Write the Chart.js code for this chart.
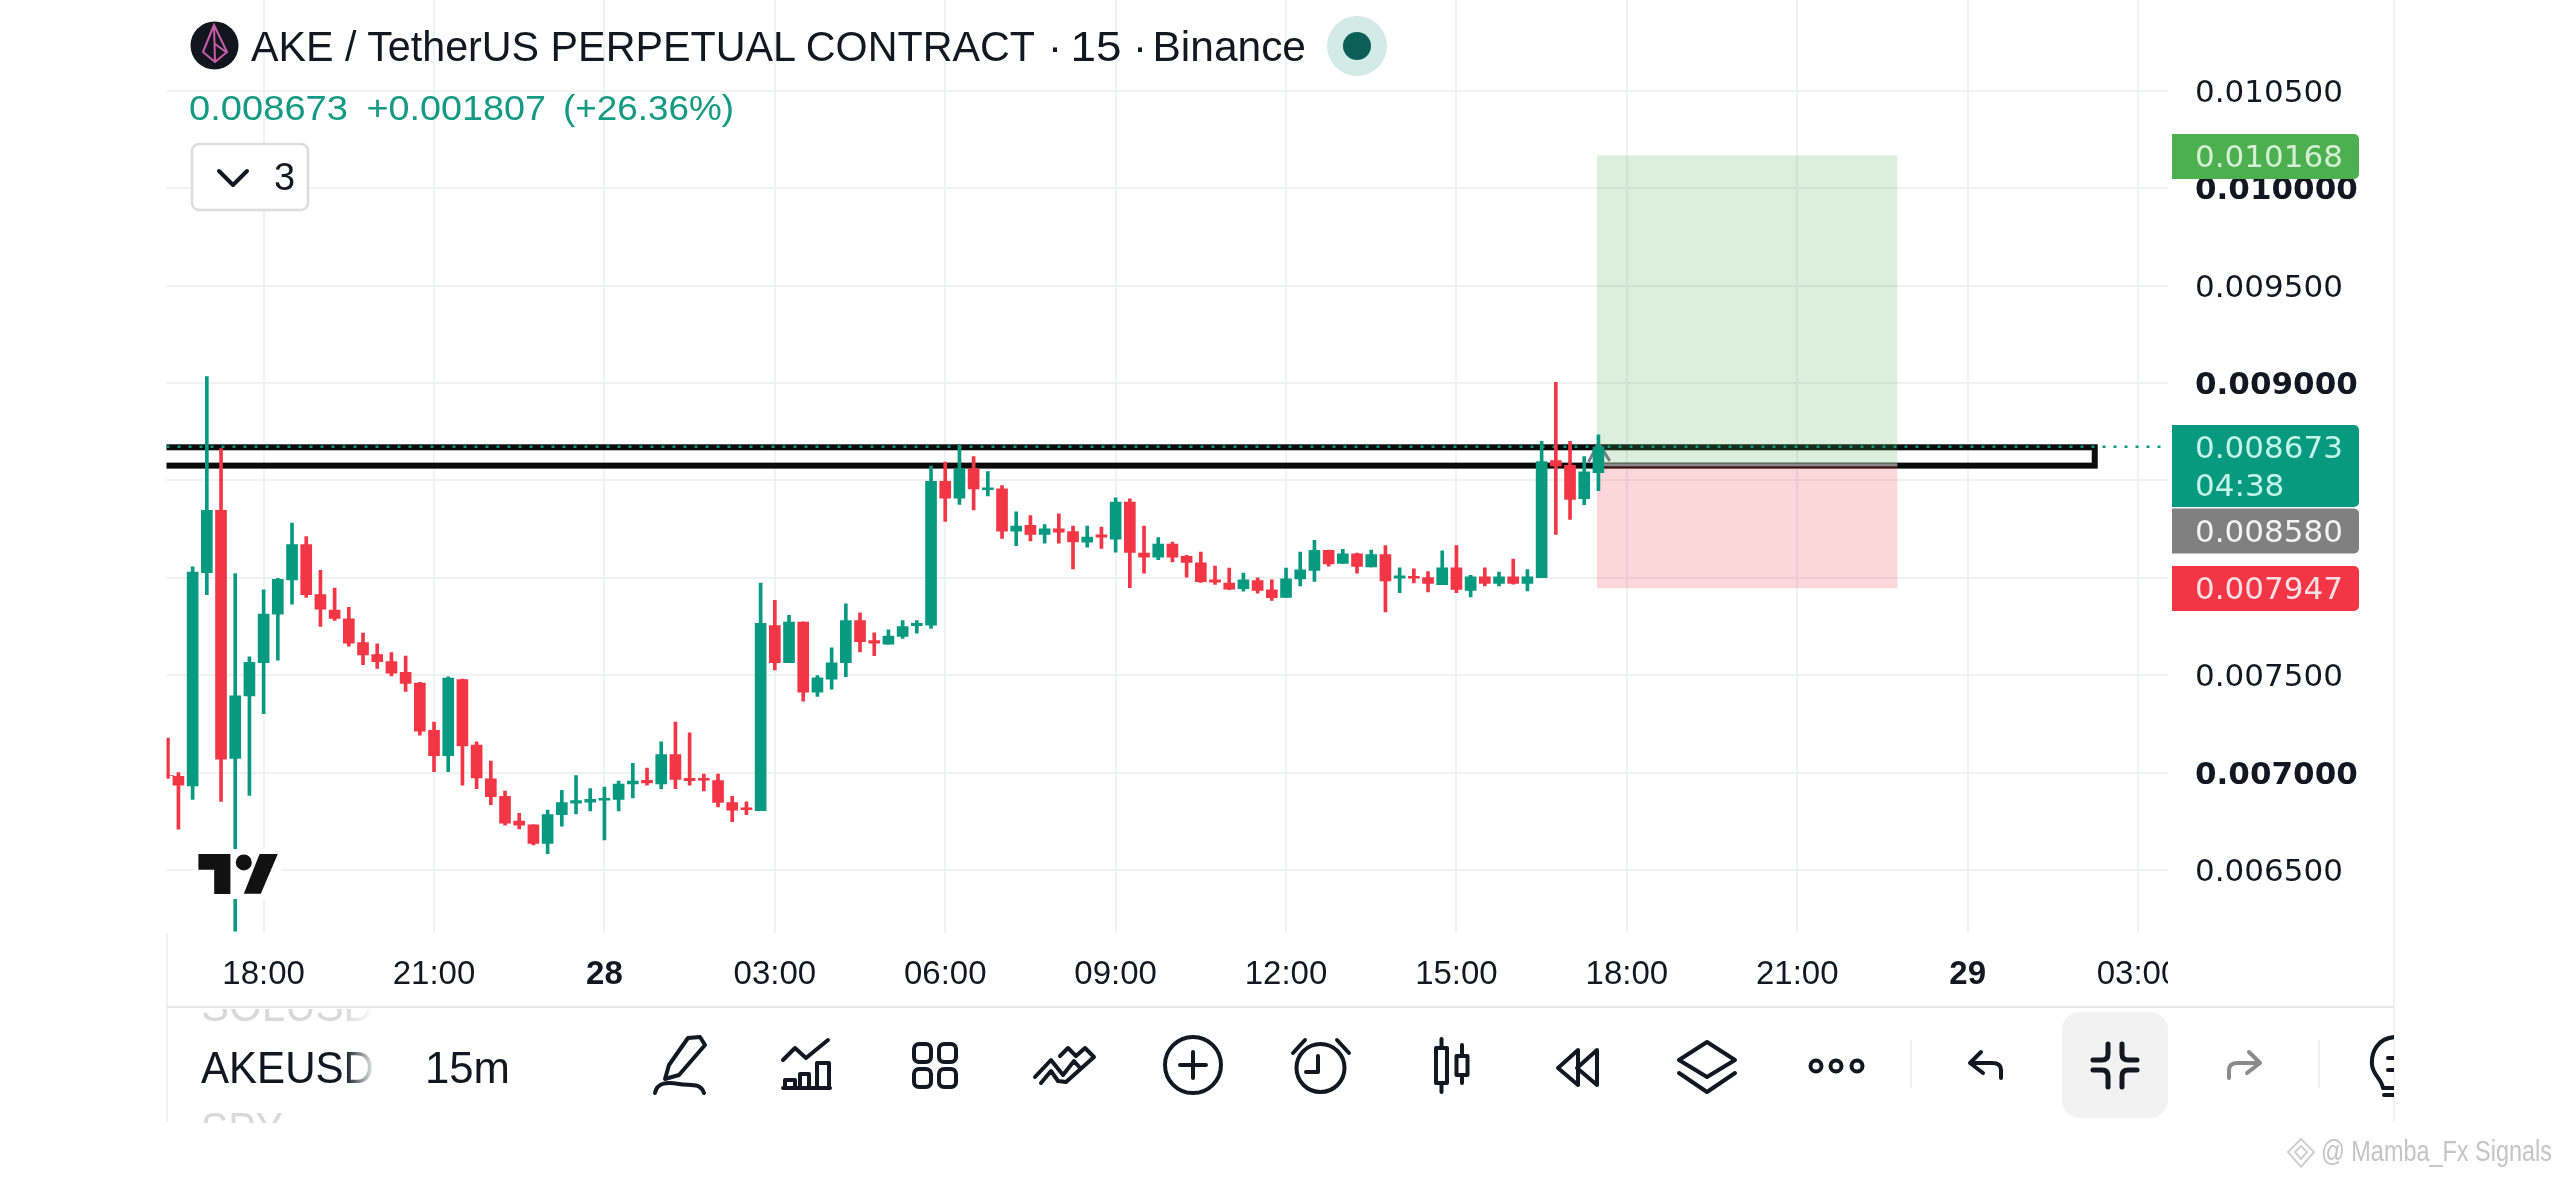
<!DOCTYPE html>
<html>
<head>
<meta charset="utf-8">
<title>AKE / TetherUS</title>
<script src="https://cdn.jsdelivr.net/npm/chart.js"></script>
<style>
html, body { margin: 0; padding: 0; background: #fff; overflow: hidden; }
#wrap { position: relative; width: 2560px; height: 1178px; }
#candles { position: absolute; left: 0; top: 0; }
#overlay { position: absolute; left: 0; top: 0; pointer-events: none; }
#overlay text { font-family: "Liberation Sans", sans-serif; }
#overlay .ico { fill: none; stroke: #131722; stroke-width: 4; stroke-linejoin: round; stroke-linecap: round; }
</style>
</head>
<body>
<div id="wrap">
<canvas id="candles" width="2560" height="1178"></canvas>
<svg id="overlay" width="2560" height="1178" viewBox="0 0 2560 1178">
  <defs>
    <linearGradient id="fadeDark" gradientUnits="userSpaceOnUse" x1="345" x2="376" y1="0" y2="0">
      <stop offset="0" stop-color="#131722"/><stop offset="1" stop-color="#fff"/>
    </linearGradient>
    <linearGradient id="fadeLight" gradientUnits="userSpaceOnUse" x1="345" x2="376" y1="0" y2="0">
      <stop offset="0" stop-color="#d8d8d8"/><stop offset="1" stop-color="#fff"/>
    </linearGradient>
    <clipPath id="upperClip"><rect x="190" y="1009" width="200" height="30"/></clipPath>
    <clipPath id="lowerClip"><rect x="190" y="1100" width="200" height="23"/></clipPath>
    <clipPath id="bulbClip"><rect x="2360" y="1020" width="34" height="90"/></clipPath>
  </defs>

  <!-- header -->
  <circle cx="214.5" cy="45.5" r="24" fill="#14141f"/>
  <path d="M214 25 L203 52 L215 62 L227 52 Z M214 25 L215 62 M215 44 L226 52" fill="none" stroke="#c65fa8" stroke-width="2"/>
  <text x="251" y="60.5" font-size="42" fill="#131722" textLength="784" lengthAdjust="spacingAndGlyphs">AKE / TetherUS PERPETUAL CONTRACT</text>
  <text x="1048" y="60.5" font-size="42" fill="#131722">·</text>
  <text x="1070.5" y="60.5" font-size="42" fill="#131722" textLength="51" lengthAdjust="spacingAndGlyphs">15</text>
  <text x="1133" y="60.5" font-size="42" fill="#131722">·</text>
  <text x="1152.5" y="60.5" font-size="42" fill="#131722" textLength="153.5" lengthAdjust="spacingAndGlyphs">Binance</text>
  <circle cx="1357" cy="46" r="30" fill="#d3ebe6"/>
  <circle cx="1357" cy="46" r="14" fill="#0b5f57"/>
  <text x="189" y="119.5" font-size="35" fill="#149a83" textLength="159" lengthAdjust="spacingAndGlyphs">0.008673</text>
  <text x="366.5" y="119.5" font-size="35" fill="#149a83" textLength="179.5" lengthAdjust="spacingAndGlyphs">+0.001807</text>
  <text x="563" y="119.5" font-size="35" fill="#149a83" textLength="171" lengthAdjust="spacingAndGlyphs">(+26.36%)</text>
  <rect x="192" y="144" width="116" height="66" rx="7" fill="#fff" stroke="#dcdcdc" stroke-width="2.5"/>
  <path class="ico" d="M219 171 L233 185 L247 171"/>
  <text x="274" y="190" font-size="38" fill="#131722">3</text>

  <!-- TradingView mark -->
  <rect x="194" y="849" width="88" height="50" fill="#fff"/>
  <path d="M198.4 854 H230.4 V894 H214.2 V869.7 H198.4 Z" fill="#111"/>
  <circle cx="243.8" cy="862.4" r="8" fill="#111"/>
  <path d="M259.6 854 H277.8 L260.8 893.8 H243.8 Z" fill="#111"/>

  <!-- panel frame -->
  <path d="M167 933 V1122 M2394 0 V1122" stroke="#f1f1f1" stroke-width="2" fill="none"/>
  <path d="M167 1007 H2394" stroke="#e8e8e8" stroke-width="2" fill="none"/>

  <!-- bottom toolbar -->
  <text x="201" y="1021" font-size="45" fill="url(#fadeLight)" clip-path="url(#upperClip)" textLength="173" lengthAdjust="spacingAndGlyphs">SOLUSD</text>
  <text x="201" y="1083" font-size="45" fill="url(#fadeDark)" textLength="173" lengthAdjust="spacingAndGlyphs">AKEUSD</text>
  <text x="201" y="1144" font-size="45" fill="#d8d8d8" clip-path="url(#lowerClip)" textLength="82" lengthAdjust="spacingAndGlyphs">SPY</text>
  <text x="425" y="1083" font-size="45" fill="#131722" textLength="85" lengthAdjust="spacingAndGlyphs">15m</text>

  <path class="ico" d="M688 1038 L700 1037 L705 1045 L679 1075 L665 1079 L669 1065 Z M655 1093 C657 1082 668 1082 679 1084 C690 1086 700 1082 704 1093"/>
  <path class="ico" d="M783 1060 L795 1048 L806 1058 L828 1040 M783 1088 H830 M785 1088 V1080 H795 V1088 M800 1088 V1074 H809 V1088 M817 1088 V1063 H829 V1088"/>
  <rect class="ico" x="914" y="1044" width="17" height="18" rx="5"/>
  <rect class="ico" x="939" y="1044" width="17" height="18" rx="5"/>
  <rect class="ico" x="914" y="1069" width="17" height="18" rx="5"/>
  <rect class="ico" x="939" y="1069" width="17" height="18" rx="5"/>
  <path class="ico" d="M1035 1077 L1051 1060 L1063 1075 M1041 1083 L1051 1071 L1058 1081 M1063 1075 L1074 1061 L1080 1068 M1058 1081 L1066 1082 L1094 1057 L1085 1048 L1076 1056 L1068 1048 L1060 1056"/>
  <circle class="ico" cx="1193" cy="1065" r="28"/>
  <path class="ico" d="M1193 1052 V1078 M1180 1065 H1206"/>
  <circle class="ico" cx="1320.5" cy="1068" r="24"/>
  <path class="ico" d="M1318 1056 V1072 H1306 M1293 1053 L1305 1040 M1349 1053 L1337 1040"/>
  <rect class="ico" x="1436" y="1048" width="11" height="35"/>
  <rect class="ico" x="1456.5" y="1056" width="11" height="19"/>
  <path class="ico" d="M1441.5 1039 V1048 M1441.5 1083 V1092 M1462 1045 V1056 M1462 1075 V1083"/>
  <path class="ico" d="M1578 1050 L1558 1068 L1578 1085 Z M1597 1050 L1577 1068 L1597 1085 Z"/>
  <path class="ico" d="M1707 1042 L1735 1060 L1707 1077 L1679 1060 Z M1679 1073 L1707 1092 L1735 1073"/>
  <circle class="ico" cx="1816" cy="1066" r="5.5"/>
  <circle class="ico" cx="1836" cy="1066" r="5.5"/>
  <circle class="ico" cx="1857" cy="1066" r="5.5"/>
  <path d="M1911 1040 V1088 M2319 1040 V1088" stroke="#eeeeee" stroke-width="2"/>
  <path class="ico" d="M2001 1078 V1070 Q2001 1063 1992 1063 H1971 M1981 1052 L1970 1063 L1983 1073"/>
  <rect x="2062" y="1012" width="106" height="106" rx="18" fill="#f2f2f2"/>
  <path class="ico" style="stroke-width:5" d="M2108 1044 V1054 Q2108 1060 2102 1060 H2093 M2122 1044 V1054 Q2122 1060 2128 1060 H2137 M2093 1070 H2102 Q2108 1070 2108 1076 V1087 M2137 1070 H2128 Q2122 1070 2122 1076 V1087"/>
  <path class="ico" style="stroke:#8a8a8a" d="M2229 1078 V1070 Q2229 1063 2238 1063 H2259 M2249 1052 L2260 1063 L2247 1073"/>
  <path class="ico" clip-path="url(#bulbClip)" d="M2397 1037 C2377 1037 2371 1053 2372 1065 C2373 1075 2381 1078 2383 1088 H2397 M2384 1095 H2397 M2388 1058 H2397 M2388 1070 H2397"/>

  <!-- watermark -->
  <path d="M2301 1139 L2314 1152 L2301 1167 L2288 1152 Z M2301 1146 L2307 1152 L2301 1159 L2295 1152 Z" fill="none" stroke="#cfcfcf" stroke-width="2"/>
  <text x="2321" y="1161" font-size="29" fill="#c4c4c4" textLength="231" lengthAdjust="spacingAndGlyphs">@ Mamba_Fx Signals</text>
</svg>
</div>

<script>
// AKE / USDT 15m candles. bars = 15 minute slots counted from 18:00 on the 27th
const bars = [-6.74, -6, -5, -4, -3, -2, -1, 0, 1, 2, 3, 4, 5, 6, 7, 8, 9, 10, 11, 12, 13, 14, 15, 16, 17,
    18, 19, 20, 21, 22, 23, 24, 25, 26, 27, 28, 29, 30, 31, 32, 33, 34, 35, 36, 37, 38, 39, 40, 41, 42,
    43, 44, 45, 46, 47, 48, 49, 50, 51, 52, 53, 54, 55, 56, 57, 58, 59, 60, 61, 62, 63, 64, 65, 66, 67,
    68, 69, 70, 71, 72, 73, 74, 75, 76, 77, 78, 79, 80, 81, 82, 83, 84, 85, 86, 87, 88, 89, 90, 91, 92, 93, 94];

const opens = [0.006985, 0.006981, 0.006932, 0.008026, 0.008346, 0.007073, 0.007394, 0.007564, 0.007814, 0.007989,
    0.008171, 0.007914, 0.007835, 0.007790, 0.007668, 0.007606, 0.007570, 0.007515, 0.007460, 0.007217,
    0.007087, 0.007478, 0.007142, 0.006969, 0.006879, 0.006751, 0.006732, 0.006637, 0.006785, 0.006844,
    0.006849, 0.006859, 0.006863, 0.006942, 0.006961, 0.006942, 0.007093, 0.006971, 0.006971, 0.006959,
    0.006847, 0.006820, 0.006805, 0.007755, 0.007565, 0.007773, 0.007413, 0.007480, 0.007565, 0.007781,
    0.007678, 0.007660, 0.007699, 0.007755, 0.007757, 0.008495, 0.008409, 0.008560, 0.008452, 0.008457,
    0.008240, 0.008269, 0.008223, 0.008252, 0.008238, 0.008183, 0.008221, 0.008199, 0.008389, 0.008127,
    0.008106, 0.008173, 0.008110, 0.008077, 0.007990, 0.007973, 0.007944, 0.007986, 0.007939, 0.007899,
    0.007995, 0.008038, 0.008141, 0.008074, 0.008123, 0.008056, 0.008120, 0.007998, 0.008008, 0.008001,
    0.007965, 0.008051, 0.007936, 0.008005, 0.007971, 0.008005, 0.007971, 0.008001, 0.008602, 0.008578,
    0.008406, 0.008540];

const highs = [0.007177, 0.007001, 0.008057, 0.009033, 0.008664, 0.008022, 0.007594, 0.007938, 0.007998, 0.008281,
    0.008212, 0.008038, 0.007947, 0.007849, 0.007716, 0.007661, 0.007617, 0.007598, 0.007464, 0.007260,
    0.007492, 0.007480, 0.007158, 0.007060, 0.006906, 0.006792, 0.006732, 0.006808, 0.006910, 0.006985,
    0.006918, 0.006926, 0.006957, 0.007048, 0.007024, 0.007158, 0.007260, 0.007205, 0.006993, 0.006993,
    0.006879, 0.006851, 0.007973, 0.007884, 0.007807, 0.007774, 0.007499, 0.007641, 0.007867, 0.007820,
    0.007718, 0.007733, 0.007781, 0.007781, 0.008574, 0.008594, 0.008680, 0.008623, 0.008546, 0.008474,
    0.008339, 0.008320, 0.008274, 0.008329, 0.008266, 0.008266, 0.008260, 0.008411, 0.008406, 0.008266,
    0.008206, 0.008183, 0.008115, 0.008132, 0.008060, 0.008050, 0.008024, 0.008000, 0.007990, 0.008050,
    0.008132, 0.008192, 0.008142, 0.008146, 0.008127, 0.008142, 0.008166, 0.008051, 0.008046, 0.008032,
    0.008139, 0.008166, 0.008013, 0.008051, 0.008029, 0.008096, 0.008043, 0.008700, 0.009003, 0.008700,
    0.008622, 0.008734];

const lows = [0.006971, 0.006710, 0.006863, 0.007914, 0.006853, 0.006186, 0.006883, 0.007303, 0.007578, 0.007865,
    0.007900, 0.007751, 0.007782, 0.007649, 0.007555, 0.007535, 0.007496, 0.007417, 0.007193, 0.007005,
    0.007005, 0.006936, 0.006918, 0.006836, 0.006730, 0.006712, 0.006629, 0.006584, 0.006726, 0.006789,
    0.006804, 0.006655, 0.006804, 0.006871, 0.006936, 0.006918, 0.006918, 0.006936, 0.006906, 0.006824,
    0.006749, 0.006785, 0.006805, 0.007528, 0.007565, 0.007367, 0.007391, 0.007428, 0.007493, 0.007620,
    0.007600, 0.007660, 0.007689, 0.007716, 0.007740, 0.008290, 0.008377, 0.008349, 0.008421, 0.008202,
    0.008165, 0.008189, 0.008178, 0.008178, 0.008046, 0.008158, 0.008151, 0.008132, 0.007949, 0.008024,
    0.008093, 0.008082, 0.008004, 0.007976, 0.007966, 0.007939, 0.007932, 0.007921, 0.007884, 0.007899,
    0.007959, 0.007981, 0.008060, 0.008074, 0.008024, 0.008056, 0.007825, 0.007924, 0.007974, 0.007928,
    0.007965, 0.007924, 0.007902, 0.007959, 0.007959, 0.007967, 0.007933, 0.008001, 0.008223, 0.008300,
    0.008375, 0.008448];

const closes = [0.006985, 0.006936, 0.008030, 0.008346, 0.007069, 0.007394, 0.007566, 0.007814, 0.007992, 0.008171,
    0.007914, 0.007839, 0.007792, 0.007665, 0.007604, 0.007570, 0.007511, 0.007458, 0.007213, 0.007087,
    0.007486, 0.007138, 0.006973, 0.006877, 0.006741, 0.006730, 0.006637, 0.006785, 0.006847, 0.006857,
    0.006863, 0.006869, 0.006942, 0.006957, 0.006948, 0.007093, 0.006965, 0.006959, 0.006961, 0.006848,
    0.006808, 0.006810, 0.007767, 0.007565, 0.007773, 0.007413, 0.007487, 0.007564, 0.007781, 0.007672,
    0.007665, 0.007701, 0.007750, 0.007767, 0.008495, 0.008409, 0.008560, 0.008456, 0.008462, 0.008240,
    0.008266, 0.008223, 0.008252, 0.008235, 0.008185, 0.008209, 0.008209, 0.008389, 0.008130, 0.008106,
    0.008173, 0.008106, 0.008079, 0.007980, 0.007978, 0.007942, 0.007990, 0.007935, 0.007898, 0.007995,
    0.008041, 0.008141, 0.008072, 0.008123, 0.008058, 0.008120, 0.007984, 0.008010, 0.007998, 0.007971,
    0.008051, 0.007940, 0.008005, 0.007971, 0.008005, 0.007971, 0.008005, 0.008597, 0.008574, 0.008403,
    0.008544, 0.008673];

// time axis
const timeTickBars = [0, 12, 24, 36, 48, 60, 72, 84, 96, 108, 120, 132];
const timeTickLabels = ['18:00', '21:00', '28', '03:00', '06:00', '09:00', '12:00', '15:00', '18:00', '21:00', '29', '03:00'];

// price ticks that the badges push off the axis
const hiddenPriceLabels = ['0.008500', '0.008000'];

// drawings on the chart
const zoneTop = 0.008670;
const zoneBottom = 0.008576;
const zoneEndBar = 128.95;
const lastPrice = 0.008673;
const targetPrice = 0.010168;
const entryPrice = 0.008580;
const stopPrice = 0.007947;
const positionStartBar = 93.9;
const positionEndBar = 115.05;
const arrowBars = [93.3, 94, 94.8];
const arrowPrices = [0.008595, 0.008690, 0.008600];

// labels on the price axis
const badgeTexts = ['0.010168', '0.008580', '0.007947'];
const badgeColors = ['#4caf50', '#808080', '#f23645'];
const badgeTextColors = ['#d6f0d4', '#f4f4f4', '#fbdfe2'];
const GREEN = '#089981';
const RED = '#f23645';
const PRICE_FONT = '"DejaVu Sans", sans-serif';

function candleColor(index) {
    return closes[index] > opens[index] ? GREEN : RED;
}

function roundedBox(ctx, x, y, w, h, r) {
    ctx.beginPath();
    ctx.roundRect(x, y, w, h, r);
    ctx.fill();
}

// zone, long position tool and price line go under the candles
const drawingsPlugin = {
    id: 'drawings',
    beforeDatasetsDraw(chart) {
        const { ctx, chartArea, scales } = chart;
        const xs = scales.x;
        const ys = scales.y;
        ctx.save();
        ctx.beginPath();
        ctx.rect(chartArea.left, chartArea.top, chartArea.right - chartArea.left, chartArea.bottom - chartArea.top);
        ctx.clip();

        // black rectangle zone
        ctx.strokeStyle = '#0b0b0b';
        ctx.lineWidth = 6;
        ctx.strokeRect(xs.getPixelForValue(-20), ys.getPixelForValue(zoneTop), xs.getPixelForValue(zoneEndBar) - xs.getPixelForValue(-20), ys.getPixelForValue(zoneBottom) - ys.getPixelForValue(zoneTop));

        // target and stop boxes
        const boxLeft = xs.getPixelForValue(positionStartBar);
        const boxWidth = xs.getPixelForValue(positionEndBar) - boxLeft;
        ctx.fillStyle = 'rgba(76, 175, 80, 0.2)';
        ctx.fillRect(boxLeft, ys.getPixelForValue(targetPrice), boxWidth, ys.getPixelForValue(entryPrice) - ys.getPixelForValue(targetPrice));
        ctx.fillStyle = 'rgba(242, 54, 69, 0.2)';
        ctx.fillRect(boxLeft, ys.getPixelForValue(entryPrice), boxWidth, ys.getPixelForValue(stopPrice) - ys.getPixelForValue(entryPrice));
        ctx.fillStyle = '#8a8a8a';
        ctx.fillRect(boxLeft, ys.getPixelForValue(entryPrice) - 1.5, boxWidth, 3);

        // dotted last price line
        ctx.strokeStyle = GREEN;
        ctx.lineWidth = 2.5;
        ctx.setLineDash([3, 8]);
        ctx.beginPath();
        ctx.moveTo(chartArea.left, ys.getPixelForValue(lastPrice));
        ctx.lineTo(chartArea.right - 6, ys.getPixelForValue(lastPrice));
        ctx.stroke();
        ctx.setLineDash([]);

        // small arrow of the position tool
        ctx.strokeStyle = '#787b86';
        ctx.lineWidth = 3;
        ctx.beginPath();
        arrowBars.forEach((bar, i) => {
            if (i === 0) ctx.moveTo(xs.getPixelForValue(bar), ys.getPixelForValue(arrowPrices[i]));
            else ctx.lineTo(xs.getPixelForValue(bar), ys.getPixelForValue(arrowPrices[i]));
        });
        ctx.stroke();
        ctx.restore();
    },
    afterDraw(chart) {
        const { ctx, scales } = chart;
        const ys = scales.y;
        const badgeLeft = 2172;
        const badgeWidth = 187;
        const textLeft = 2195;
        ctx.save();

        // the last time label is cut at the edge of the pane
        ctx.fillStyle = '#fff';
        ctx.fillRect(2168, 938, 220, 66);

        ctx.font = '31px ' + PRICE_FONT;
        ctx.textBaseline = 'middle';
        ctx.textAlign = 'left';

        // last price with countdown
        ctx.fillStyle = GREEN;
        roundedBox(ctx, badgeLeft, 425, badgeWidth, 82, [0, 5, 5, 0]);
        ctx.fillStyle = '#c4f5e8';
        ctx.fillText(lastPrice.toFixed(6), textLeft, ys.getPixelForValue(lastPrice) + 3);
        ctx.fillText('04:38', textLeft, 488);

        badgeTexts.forEach((text, i) => {
            const top = i === 0 ? 134 : (i === 1 ? 508.5 : 566);
            ctx.fillStyle = badgeColors[i];
            roundedBox(ctx, badgeLeft, top, badgeWidth, 45, [0, 5, 5, 0]);
            ctx.fillStyle = badgeTextColors[i];
            ctx.fillText(text, textLeft, top + 25);
        });
        ctx.restore();
    }
};

function renderCandles() {
    const ctx = document.getElementById('candles').getContext('2d');
    new Chart(ctx, {
        type: 'bar',
        data: {
            datasets: [{
                label: 'Wicks',
                data: bars.map((bar, i) => ({ x: bar, y: [lows[i], highs[i]] })),
                backgroundColor: bars.map((bar, i) => candleColor(i)),
                barThickness: 3,
                grouped: false,
                order: 2
            }, {
                label: 'Bodies',
                data: bars.map((bar, i) => ({ x: bar, y: [opens[i], closes[i]] })),
                backgroundColor: bars.map((bar, i) => candleColor(i)),
                barThickness: 11,
                grouped: false,
                order: 1
            }]
        },
        options: {
            responsive: false,
            animation: false,
            devicePixelRatio: 1,
            layout: { padding: { left: 166.5, right: 166, top: 0, bottom: 0 } },
            plugins: {
                legend: { display: false },
                tooltip: { enabled: false }
            },
            scales: {
                x: {
                    type: 'linear',
                    offset: false,
                    min: -6.84,
                    max: 134.11,
                    border: { display: false },
                    grid: { color: '#eff1f3', lineWidth: 2, drawTicks: false, offset: false },
                    afterFit(scale) {
                        scale.height = 245;
                        scale.paddingLeft = 0;
                        scale.paddingRight = 0;
                    },
                    ticks: {
                        stepSize: 12,
                        includeBounds: false,
                        autoSkip: false,
                        maxRotation: 0,
                        padding: 22,
                        color: '#131722',
                        font: (c) => {
                            const label = timeTickLabels[timeTickBars.indexOf(c.tick ? c.tick.value : -1)];
                            return { family: '"Liberation Sans", sans-serif', size: 33, weight: label && label.length === 2 ? 'bold' : 'normal' };
                        },
                        callback: (value) => timeTickLabels[timeTickBars.indexOf(value)] || ''
                    }
                },
                y: {
                    type: 'linear',
                    position: 'right',
                    min: 0.0061772,
                    max: 0.0109657,
                    border: { display: false },
                    grid: { color: '#eff1f3', lineWidth: 2, drawTicks: false },
                    afterFit(scale) {
                        scale.width = 226;
                        scale.paddingTop = 0;
                        scale.paddingBottom = 0;
                    },
                    ticks: {
                        stepSize: 0.0005,
                        includeBounds: false,
                        crossAlign: 'near',
                        padding: 27,
                        color: '#131722',
                        font: (c) => {
                            const whole = c.tick && Math.round(c.tick.value * 1000000) % 1000 === 0;
                            // small line height: the empty first line moves the label down 3px
                            return { family: PRICE_FONT, size: 31, lineHeight: 0.19, weight: whole ? 'bold' : 'normal' };
                        },
                        callback: (value) => {
                            const text = value.toFixed(6);
                            return hiddenPriceLabels.includes(text) ? '' : ['', text];
                        }
                    }
                }
            }
        },
        plugins: [drawingsPlugin]
    });
}

document.addEventListener('DOMContentLoaded', renderCandles);
</script>
</body>
</html>
